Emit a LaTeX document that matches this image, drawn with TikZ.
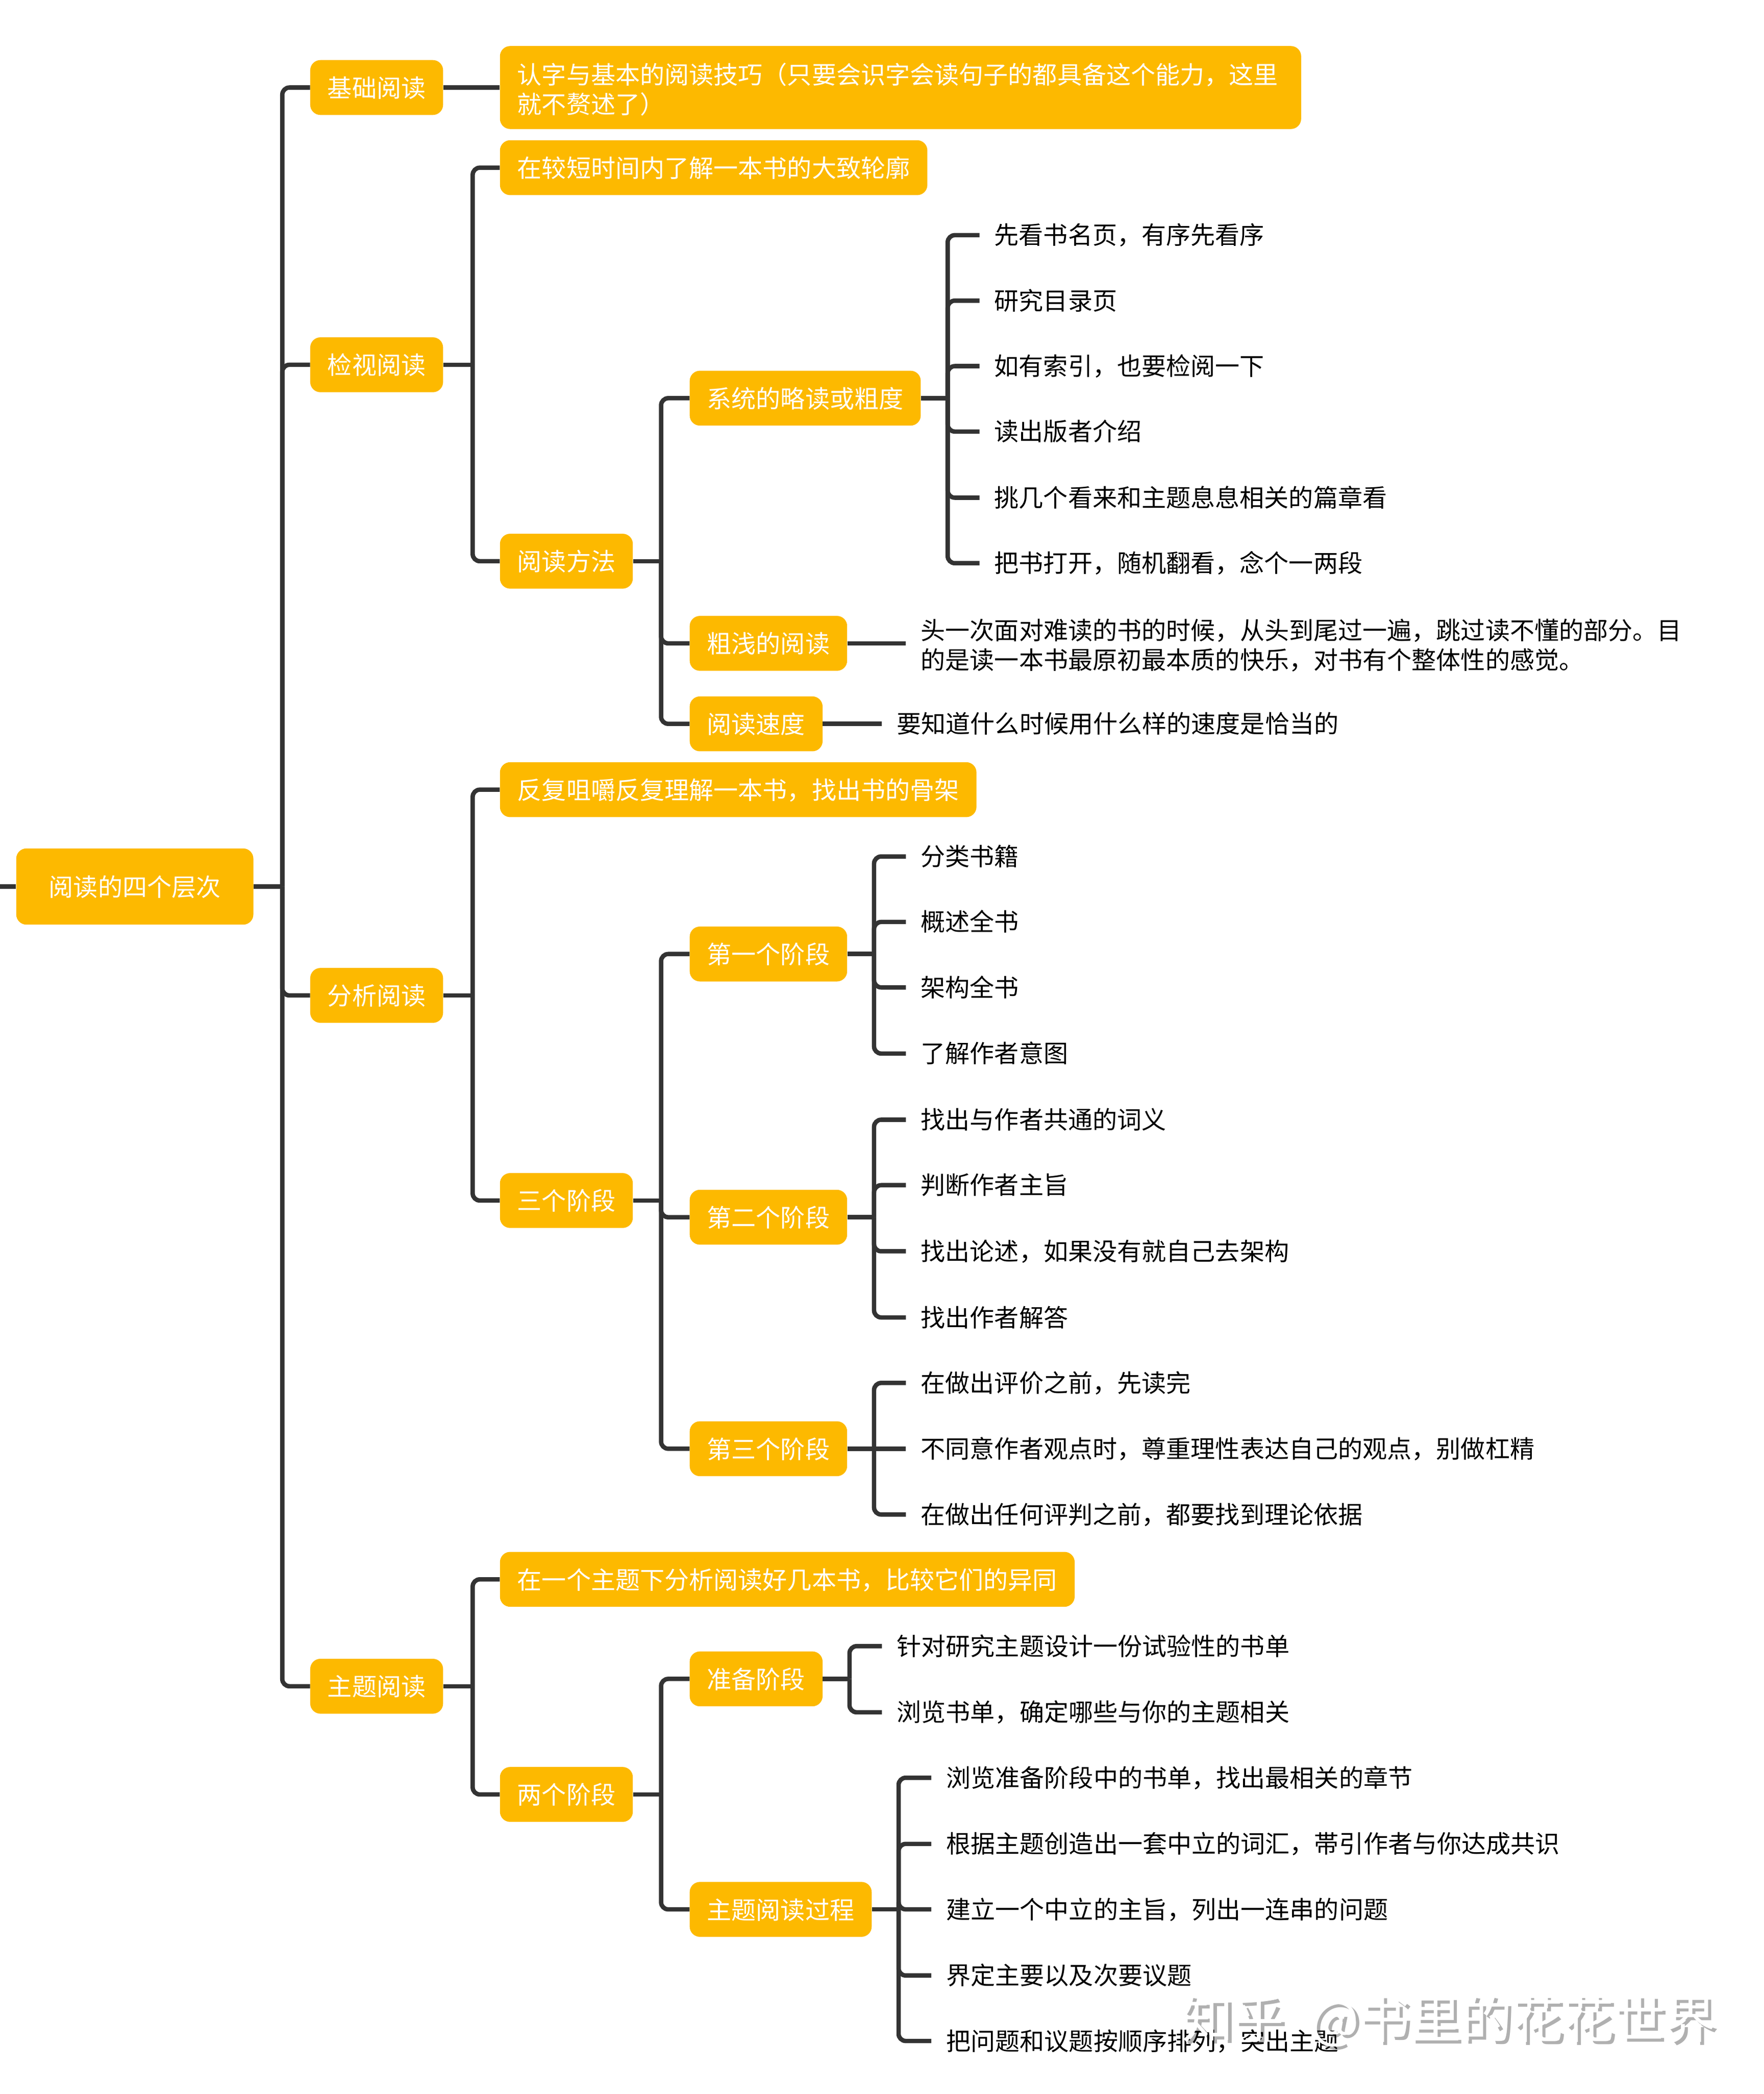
\documentclass[tikz,border=0pt]{standalone}
\usepackage{fontspec}
\usepackage{tikz}
\newfontfamily\cjk{Noto Sans CJK SC}
\definecolor{boxfill}{HTML}{FDB900}
\definecolor{linkcol}{HTML}{333333}
\definecolor{markcol}{HTML}{B0B0B0}
\begin{document}
\begin{tikzpicture}[x=1.3093pt, y=-1.3093pt,
  tag/.style={fill=boxfill, text=white, rounded corners=10pt, anchor=west, inner xsep=17pt, inner ysep=0pt,
    minimum height=53.8pt, text height=23pt, text depth=4pt, font=\cjk\fontsize{24.05}{28.8}\selectfont},
  item/.style={anchor=west, inner xsep=14.4pt, inner ysep=0pt, text=black, text height=22pt, text depth=4pt,
    font=\cjk\fontsize{24.05}{28.8}\selectfont},
  link/.style={draw=linkcol, line width=4.3pt, rounded corners=7pt},
  wmark/.style={anchor=east, inner sep=0pt, font=\cjk\fontsize{50}{50}\selectfont}]
\useasboundingbox (0,0) rectangle (1319.8,1567.2);
\node (W) [wmark, text=markcol] at (1287,1515) {知乎\hspace{26pt}@书里的花花世界};
\coordinate (S) at (0,663.5);
\node (R) [tag, inner xsep=32pt, minimum height=74.7pt] at (12,663.5) {阅读的四个层次};
\node (A) [tag] at (232,65.5) {基础阅读};
\node (B) [tag] at (232,273) {检视阅读};
\node (C) [tag] at (232,745) {分析阅读};
\node (D) [tag] at (232,1262) {主题阅读};
\node (A1) [tag, text height=, text depth=, align=left, text width=751pt, minimum height=81.3pt] at (374,65.5) {\rule{0pt}{24pt}认字与基本的阅读技巧（只要会识字会读句子的都具备这个能力，这里\\就不赘述了）};
\node (B1) [tag] at (374,125.5) {在较短时间内了解一本书的大致轮廓};
\node (B2) [tag] at (374,420) {阅读方法};
\node (B3) [tag] at (516,298) {系统的略读或粗度};
\node (B4) [tag] at (516,481.5) {粗浅的阅读};
\node (B5) [tag] at (516,541.75) {阅读速度};
\node (B31) [item] at (733,176) {先看书名页，有序先看序};
\node (B32) [item] at (733,225) {研究目录页};
\node (B33) [item] at (733,274) {如有索引，也要检阅一下};
\node (B34) [item] at (733,323) {读出版者介绍};
\node (B35) [item] at (733,372.5) {挑几个看来和主题息息相关的篇章看};
\node (B36) [item] at (733,421.5) {把书打开，随机翻看，念个一两段};
\node (B41) [item, text height=, text depth=, align=left] at (678,481.5) {\rule{0pt}{24pt}头一次面对难读的书的时候，从头到尾过一遍，跳过读不懂的部分。目\\的是读一本书最原初最本质的快乐，对书有个整体性的感觉。};
\node (B51) [item] at (660,541.75) {要知道什么时候用什么样的速度是恰当的};
\node (C1) [tag] at (374,591) {反复咀嚼反复理解一本书，找出书的骨架};
\node (C2) [tag] at (374,898.5) {三个阶段};
\node (C3) [tag] at (516,714) {第一个阶段};
\node (C4) [tag] at (516,911) {第二个阶段};
\node (C5) [tag] at (516,1084.25) {第三个阶段};
\node (C31) [item] at (678,641) {分类书籍};
\node (C32) [item] at (678,690) {概述全书};
\node (C33) [item] at (678,739) {架构全书};
\node (C34) [item] at (678,788.5) {了解作者意图};
\node (C41) [item] at (678,838) {找出与作者共通的词义};
\node (C42) [item] at (678,887) {判断作者主旨};
\node (C43) [item] at (678,936.5) {找出论述，如果没有就自己去架构};
\node (C44) [item] at (678,986) {找出作者解答};
\node (C51) [item] at (678,1035) {在做出评价之前，先读完};
\node (C52) [item] at (678,1084.25) {不同意作者观点时，尊重理性表达自己的观点，别做杠精};
\node (C53) [item] at (678,1133.5) {在做出任何评判之前，都要找到理论依据};
\node (D1) [tag] at (374,1182) {在一个主题下分析阅读好几本书，比较它们的异同};
\node (D2) [tag] at (374,1343) {两个阶段};
\node (D3) [tag] at (516,1256.5) {准备阶段};
\node (D4) [tag] at (516,1429) {主题阅读过程};
\node (D31) [item] at (660,1232) {针对研究主题设计一份试验性的书单};
\node (D32) [item] at (660,1281.5) {浏览书单，确定哪些与你的主题相关};
\node (D41) [item] at (697,1330.5) {浏览准备阶段中的书单，找出最相关的章节};
\node (D42) [item] at (697,1380) {根据主题创造出一套中立的词汇，帯引作者与你达成共识};
\node (D43) [item] at (697,1429) {建立一个中立的主旨，列出一连串的问题};
\node (D44) [item] at (697,1478.5) {界定主要以及次要议题};
\node (D45) [item] at (697,1527.5) {把问题和议题按顺序排列，突出主题};
\draw[link] (S) -- (R.west);
\draw[link] (R.east) -- ++(21.5,0);
\draw[link] (R.east) ++(21.5,0) |- (A.west);
\draw[link] (R.east) ++(21.5,0) |- (B.west);
\draw[link] (R.east) ++(21.5,0) |- (C.west);
\draw[link] (R.east) ++(21.5,0) |- (D.west);
\draw[link] (A.east) -- (A1.west);
\draw[link] (B.east) -- ++(22,0);
\draw[link] (B.east) ++(22,0) |- (B1.west);
\draw[link] (B.east) ++(22,0) |- (B2.west);
\draw[link] (B2.east) -- ++(21,0);
\draw[link] (B2.east) ++(21,0) |- (B3.west);
\draw[link] (B2.east) ++(21,0) |- (B4.west);
\draw[link] (B2.east) ++(21,0) |- (B5.west);
\draw[link] (B3.east) -- ++(20,0);
\draw[link] (B3.east) ++(20,0) |- (B31.west);
\draw[link] (B3.east) ++(20,0) |- (B32.west);
\draw[link] (B3.east) ++(20,0) |- (B33.west);
\draw[link] (B3.east) ++(20,0) |- (B34.west);
\draw[link] (B3.east) ++(20,0) |- (B35.west);
\draw[link] (B3.east) ++(20,0) |- (B36.west);
\draw[link] (B4.east) -- (B41.west);
\draw[link] (B5.east) -- (B51.west);
\draw[link] (C.east) -- ++(22,0);
\draw[link] (C.east) ++(22,0) |- (C1.west);
\draw[link] (C.east) ++(22,0) |- (C2.west);
\draw[link] (C2.east) -- ++(21,0);
\draw[link] (C2.east) ++(21,0) |- (C3.west);
\draw[link] (C2.east) ++(21,0) |- (C4.west);
\draw[link] (C2.east) ++(21,0) |- (C5.west);
\draw[link] (C3.east) -- ++(20,0);
\draw[link] (C3.east) ++(20,0) |- (C31.west);
\draw[link] (C3.east) ++(20,0) |- (C32.west);
\draw[link] (C3.east) ++(20,0) |- (C33.west);
\draw[link] (C3.east) ++(20,0) |- (C34.west);
\draw[link] (C4.east) -- ++(20,0);
\draw[link] (C4.east) ++(20,0) |- (C41.west);
\draw[link] (C4.east) ++(20,0) |- (C42.west);
\draw[link] (C4.east) ++(20,0) |- (C43.west);
\draw[link] (C4.east) ++(20,0) |- (C44.west);
\draw[link] (C5.east) ++(20,0) |- (C51.west);
\draw[link] (C5.east) -- (C52.west);
\draw[link] (C5.east) ++(20,0) |- (C53.west);
\draw[link] (D.east) -- ++(22,0);
\draw[link] (D.east) ++(22,0) |- (D1.west);
\draw[link] (D.east) ++(22,0) |- (D2.west);
\draw[link] (D2.east) -- ++(21,0);
\draw[link] (D2.east) ++(21,0) |- (D3.west);
\draw[link] (D2.east) ++(21,0) |- (D4.west);
\draw[link] (D3.east) -- ++(20,0);
\draw[link] (D3.east) ++(20,0) |- (D31.west);
\draw[link] (D3.east) ++(20,0) |- (D32.west);
\draw[link] (D4.east) -- ++(20,0);
\draw[link] (D4.east) ++(20,0) |- (D41.west);
\draw[link] (D4.east) ++(20,0) |- (D42.west);
\draw[link] (D4.east) ++(20,0) |- (D43.west);
\draw[link] (D4.east) ++(20,0) |- (D44.west);
\draw[link] (D4.east) ++(20,0) |- (D45.west);
\node (W1) [wmark, text=white] at (1284.5,1512.5) {知乎\hspace{26pt}@书里的花花世界};
\end{tikzpicture}
\end{document}
